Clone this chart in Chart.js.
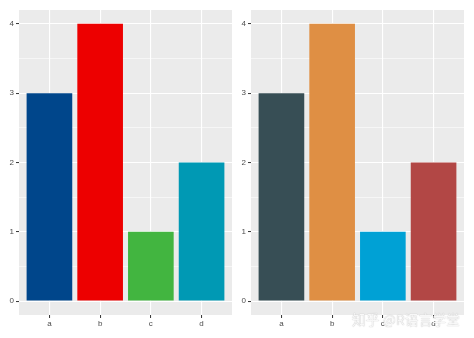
<!DOCTYPE html>
<html>
<head>
<meta charset="utf-8">
<script src="https://cdn.jsdelivr.net/npm/chart.js@4"></script>
<style>
  body { margin: 0; background: #fff; }
  #wrap { position: relative; width: 474px; height: 338px; overflow: hidden; }
  .panel { position: absolute; top: 0; }
  #marca {
    position: absolute; left: 352px; top: 309px;
    font-family: "Noto Sans CJK SC", sans-serif; font-size: 13.5px;
    color: rgba(255,255,255,0.9); text-shadow: 0 0 1px #a0a0a0;
    white-space: nowrap; letter-spacing: 0.3px;
  }
</style>
</head>
<body>
<div id="wrap">
  <div class="panel" style="left:0px"><canvas id="g1" width="242" height="338"></canvas></div>
  <div class="panel" style="left:232px"><canvas id="g2" width="242" height="338"></canvas></div>
  <div id="marca">知乎 @R语言学堂</div>
</div>
<script>
// datos
const categorias = ["a", "b", "c", "d"];
const valores = [3, 4, 1, 2];
const coloresLancet = ["#00468B", "#ED0000", "#42B540", "#0099B4"];
const coloresJama = ["#374E55", "#DF8F44", "#00A1D5", "#B24745"];
const ticksY = [0, 1, 2, 3, 4];

// fondo gris del panel, estilo ggplot
const fondoPanel = {
    id: 'fondoPanel',
    beforeDraw(chart) {
        const a = chart.chartArea;
        const ctx = chart.ctx;
        ctx.save();
        ctx.fillStyle = '#EBEBEB';
        ctx.fillRect(a.left, a.top, a.right - a.left, a.bottom - a.top);
        ctx.restore();
    }
};

const crearGrafico = (id, colores) => {
    new Chart(document.getElementById(id), {
        type: 'bar',
        data: {
            datasets: [{
                data: valores.map((v, i) => ({ x: i, y: v })),
                backgroundColor: colores,
                borderWidth: 0,
                barPercentage: 0.9,
                categoryPercentage: 1
            }]
        },
        options: {
            responsive: false,
            animation: false,
            layout: { padding: { top: 10, right: 10, left: 0, bottom: 0 } },
            plugins: { legend: { display: false }, tooltip: { enabled: false } },
            scales: {
                x: {
                    type: 'linear',
                    offset: false,
                    min: -0.6, max: 3.6,
                    afterBuildTicks: (eje) => { eje.ticks = categorias.map((c, i) => ({ value: i })); },
                    afterFit: (eje) => { eje.height = 23; },
                    border: { display: false },
                    grid: { offset: false, color: '#FFFFFF', lineWidth: 1.1, tickColor: '#333333', tickLength: 3, tickWidth: 1 },
                    ticks: {
                        padding: 1,
                        color: '#4D4D4D',
                        font: { family: 'Liberation Sans', size: 8 },
                        callback: (v) => categorias[v]
                    }
                },
                y: {
                    min: -0.2, max: 4.2,
                    afterBuildTicks: (eje) => {
                        const t = [];
                        for (let v = 0; v <= 4; v += 0.5) t.push({ value: v });
                        eje.ticks = t;
                    },
                    afterFit: (eje) => { eje.width = 19; },
                    border: { display: false },
                    grid: {
                        color: '#FFFFFF',
                        lineWidth: (c) => (c.tick && ticksY.includes(c.tick.value)) ? 1.1 : 0.55,
                        tickColor: (c) => (c.tick && ticksY.includes(c.tick.value)) ? '#333333' : 'rgba(0,0,0,0)',
                        tickLength: 3,
                        tickWidth: 1
                    },
                    ticks: {
                        padding: 2,
                        color: '#4D4D4D',
                        font: { family: 'Liberation Sans', size: 8 },
                        autoSkip: false,
                        callback: (v) => ticksY.includes(v) ? String(v) : ''
                    }
                }
            }
        },
        plugins: [fondoPanel]
    });
};

crearGrafico('g1', coloresLancet);
crearGrafico('g2', coloresJama);
</script>
</body>
</html>
